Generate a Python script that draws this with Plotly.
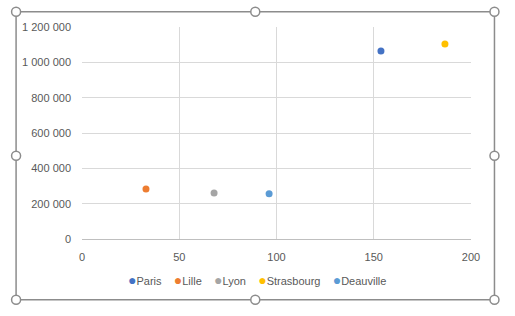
import plotly.graph_objects as go

cities = ["Paris", "Lille", "Lyon", "Strasbourg", "Deauville"]
x_vals = [153.7, 32.9, 67.9, 186.6, 96.2]
y_vals = [1064000, 283000, 260000, 1104000, 256000]
colors = ["#4472C4", "#ED7D31", "#A5A5A5", "#FFC000", "#5B9BD5"]

W, H = 515, 316
L, R, T, B = 82, 471.5, 27.3, 239.3
pw, ph = R - L, B - T

fig = go.Figure()
for c, x, y, col in zip(cities, x_vals, y_vals, colors):
    fig.add_trace(go.Scatter(x=[x], y=[y], mode="markers", name=c,
                             marker=dict(color=col, size=7)))

def px(xp):
    return (xp - L) / pw

def py(yp):
    return (B - yp) / ph

shapes = []
fx0, fx1, fy0, fy1 = 16, 495, 12, 300
shapes.append(dict(type="rect", xref="paper", yref="paper",
                   x0=px(fx0), x1=px(fx1), y0=py(fy1), y1=py(fy0),
                   line=dict(color="#8C8C8C", width=1.5), fillcolor="rgba(0,0,0,0)",
                   layer="above"))
r = 4.5
for hx in (fx0, 255.5, fx1):
    for hy in (fy0, 156, fy1):
        if hx == 255.5 and hy == 156:
            continue
        shapes.append(dict(type="circle", xref="paper", yref="paper",
                           x0=px(hx - r), x1=px(hx + r), y0=py(hy + r), y1=py(hy - r),
                           line=dict(color="#8C8C8C", width=1.5), fillcolor="white",
                           layer="above"))

# compact legend (Excel style) built from the series names/colours
nb = "\u00a0"
legend_text = (nb * 4).join(
    f'<span style="color:{col};font-size:14px">●</span>{name}' for name, col in zip(cities, colors)
)
annotations = [dict(xref="paper", yref="paper", x=px(257), y=py(280), xanchor="center",
                    yanchor="middle", showarrow=False, text=legend_text,
                    font=dict(family="Liberation Sans, Arial", size=11, color="#595959"))]

font = dict(family="Liberation Sans, Arial", size=11, color="#595959")
fig.update_layout(
    width=W, height=H,
    margin=dict(l=L, r=W - R, t=T, b=H - B),
    paper_bgcolor="white", plot_bgcolor="white",
    separators=", ",
    font=font,
    showlegend=False,
    xaxis=dict(range=[0, 200], tickvals=[0, 50, 100, 150, 200], showgrid=True,
               gridcolor="#D9D9D9", gridwidth=1, zeroline=False, showline=True,
               linecolor="#BFBFBF", mirror=False, ticks="", ticklabelstandoff=8,
               fixedrange=True),
    yaxis=dict(range=[0, 1200000], tickvals=[0, 200000, 400000, 600000, 800000, 1000000, 1200000],
               tickformat=",d", showgrid=True, gridcolor="#D9D9D9", gridwidth=1,
               zeroline=False, showline=False, ticks="", ticklabelstandoff=10,
               fixedrange=True),
    shapes=shapes,
    annotations=annotations,
)
fig.write_html("out.html")
